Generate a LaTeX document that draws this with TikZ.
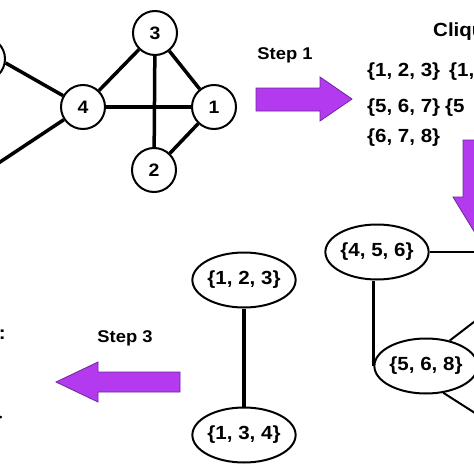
\documentclass[tikz,border=0pt]{standalone}
\usepackage{fontspec}
\setmainfont{Liberation Sans}
\newfontfamily\wf{Liberation Sans}[FakeStretch=1.08]
\usetikzlibrary{shapes.geometric}
\definecolor{arrowfill}{RGB}{180,58,240}
\definecolor{arrowline}{RGB}{110,40,150}
\begin{document}
\begin{tikzpicture}[x=1pt,y=-1pt,
  vert/.style={circle,draw,line width=2pt,minimum size=44pt,inner sep=0pt,font=\wf\bfseries\fontsize{18}{21}\selectfont},
  clq/.style={ellipse,draw,line width=2pt,minimum width=90pt,minimum height=55pt,inner sep=0pt,font=\wf\bfseries\fontsize{19}{22}\selectfont},
  thickedge/.style={line width=3.5pt},
  thinedge/.style={line width=2pt},
  lbl/.style={inner sep=0pt,font=\wf\bfseries\fontsize{19}{22}\selectfont},
  steplbl/.style={inner sep=0pt,font=\wf\bfseries\fontsize{17}{20}\selectfont},
  bigarrow/.style={fill=arrowfill,draw=arrowline,line width=0.8pt,line join=miter}]
\useasboundingbox (0,0) rectangle (474,474);
\clip (0,0) rectangle (474,474);
\fill[white] (0,0) rectangle (474,474);

% graph
\node[vert] (n3) at (155,33) {3};
\node[vert] (n4) at (83,107) {4};
\node[vert] (n1) at (214,107) {1};
\node[vert] (n2) at (154,170) {2};
\node[vert] (n0) at (-17,59) {};
\coordinate (c0) at (-12,170);
\draw[thickedge] (n0.-10) -- (n4);
\draw[thickedge] (n4) -- (c0);
\draw[thickedge] (n3) -- (n4);
\draw[thickedge] (n3) -- (n1);
\draw[thickedge] (n4) -- (n1);
\draw[thickedge] (n3) -- (n2);
\draw[thickedge] (n1) -- (n2);

% arrows
\draw[bigarrow] (256,88) -- (320,88) -- (320,77) -- (352,99) -- (320,121) -- (320,111) -- (256,111) -- cycle;
\draw[bigarrow] (463,140) -- (463,197) -- (453,197) -- (475,233) -- (497,197) -- (487,197) -- (487,140) -- cycle;
\draw[bigarrow] (180,372) -- (98,372) -- (98,362) -- (56,382) -- (98,402) -- (98,392) -- (180,392) -- cycle;

% labels
\node[steplbl] (s1) at (285,55) {Step 1};
\node[steplbl] (s3) at (125,338) {Step 3};
\node[lbl,anchor=west] (cq) at (433,32) {Cliqu};
\node[lbl,anchor=west] (k1) at (367,72) {\{1, 2, 3\}};
\node[lbl,anchor=west] (k2) at (449,72) {\{1,};
\node[lbl,anchor=west] (k3) at (367,108) {\{5, 6, 7\}};
\node[lbl,anchor=west] (k4) at (445,108) {\{5};
\node[lbl,anchor=west] (k5) at (367,138) {\{6, 7, 8\}};
\node[lbl,anchor=east] (colon) at (6,335) {:};
\node[lbl,anchor=east] (brace) at (2.5,418) {\}};

% trees
\node[clq] (e123) at (244,280) {\{1, 2, 3\}};
\node[clq] (e134) at (244,435) {\{1, 3, 4\}};
\draw[thickedge] (e123) -- (e134);

\node[clq] (e456) at (377,252) {\{4, 5, 6\}};
\node[clq] (e568) at (426,366) {\{5, 6, 8\}};
\draw[thickedge] (e568.west |- e456.south) -- (e568.west);
\coordinate (r1) at (490,252);
\coordinate (r2) at (500,302);
\coordinate (r3) at (500,366);
\coordinate (r4) at (500,429);
\draw[thinedge] (e456) -- (r1);
\draw[thinedge] (e568.47) -- (r2);
\draw[thinedge] (e568) -- (r3);
\draw[thinedge] (e568.-57) -- (r4);
\end{tikzpicture}
\end{document}
